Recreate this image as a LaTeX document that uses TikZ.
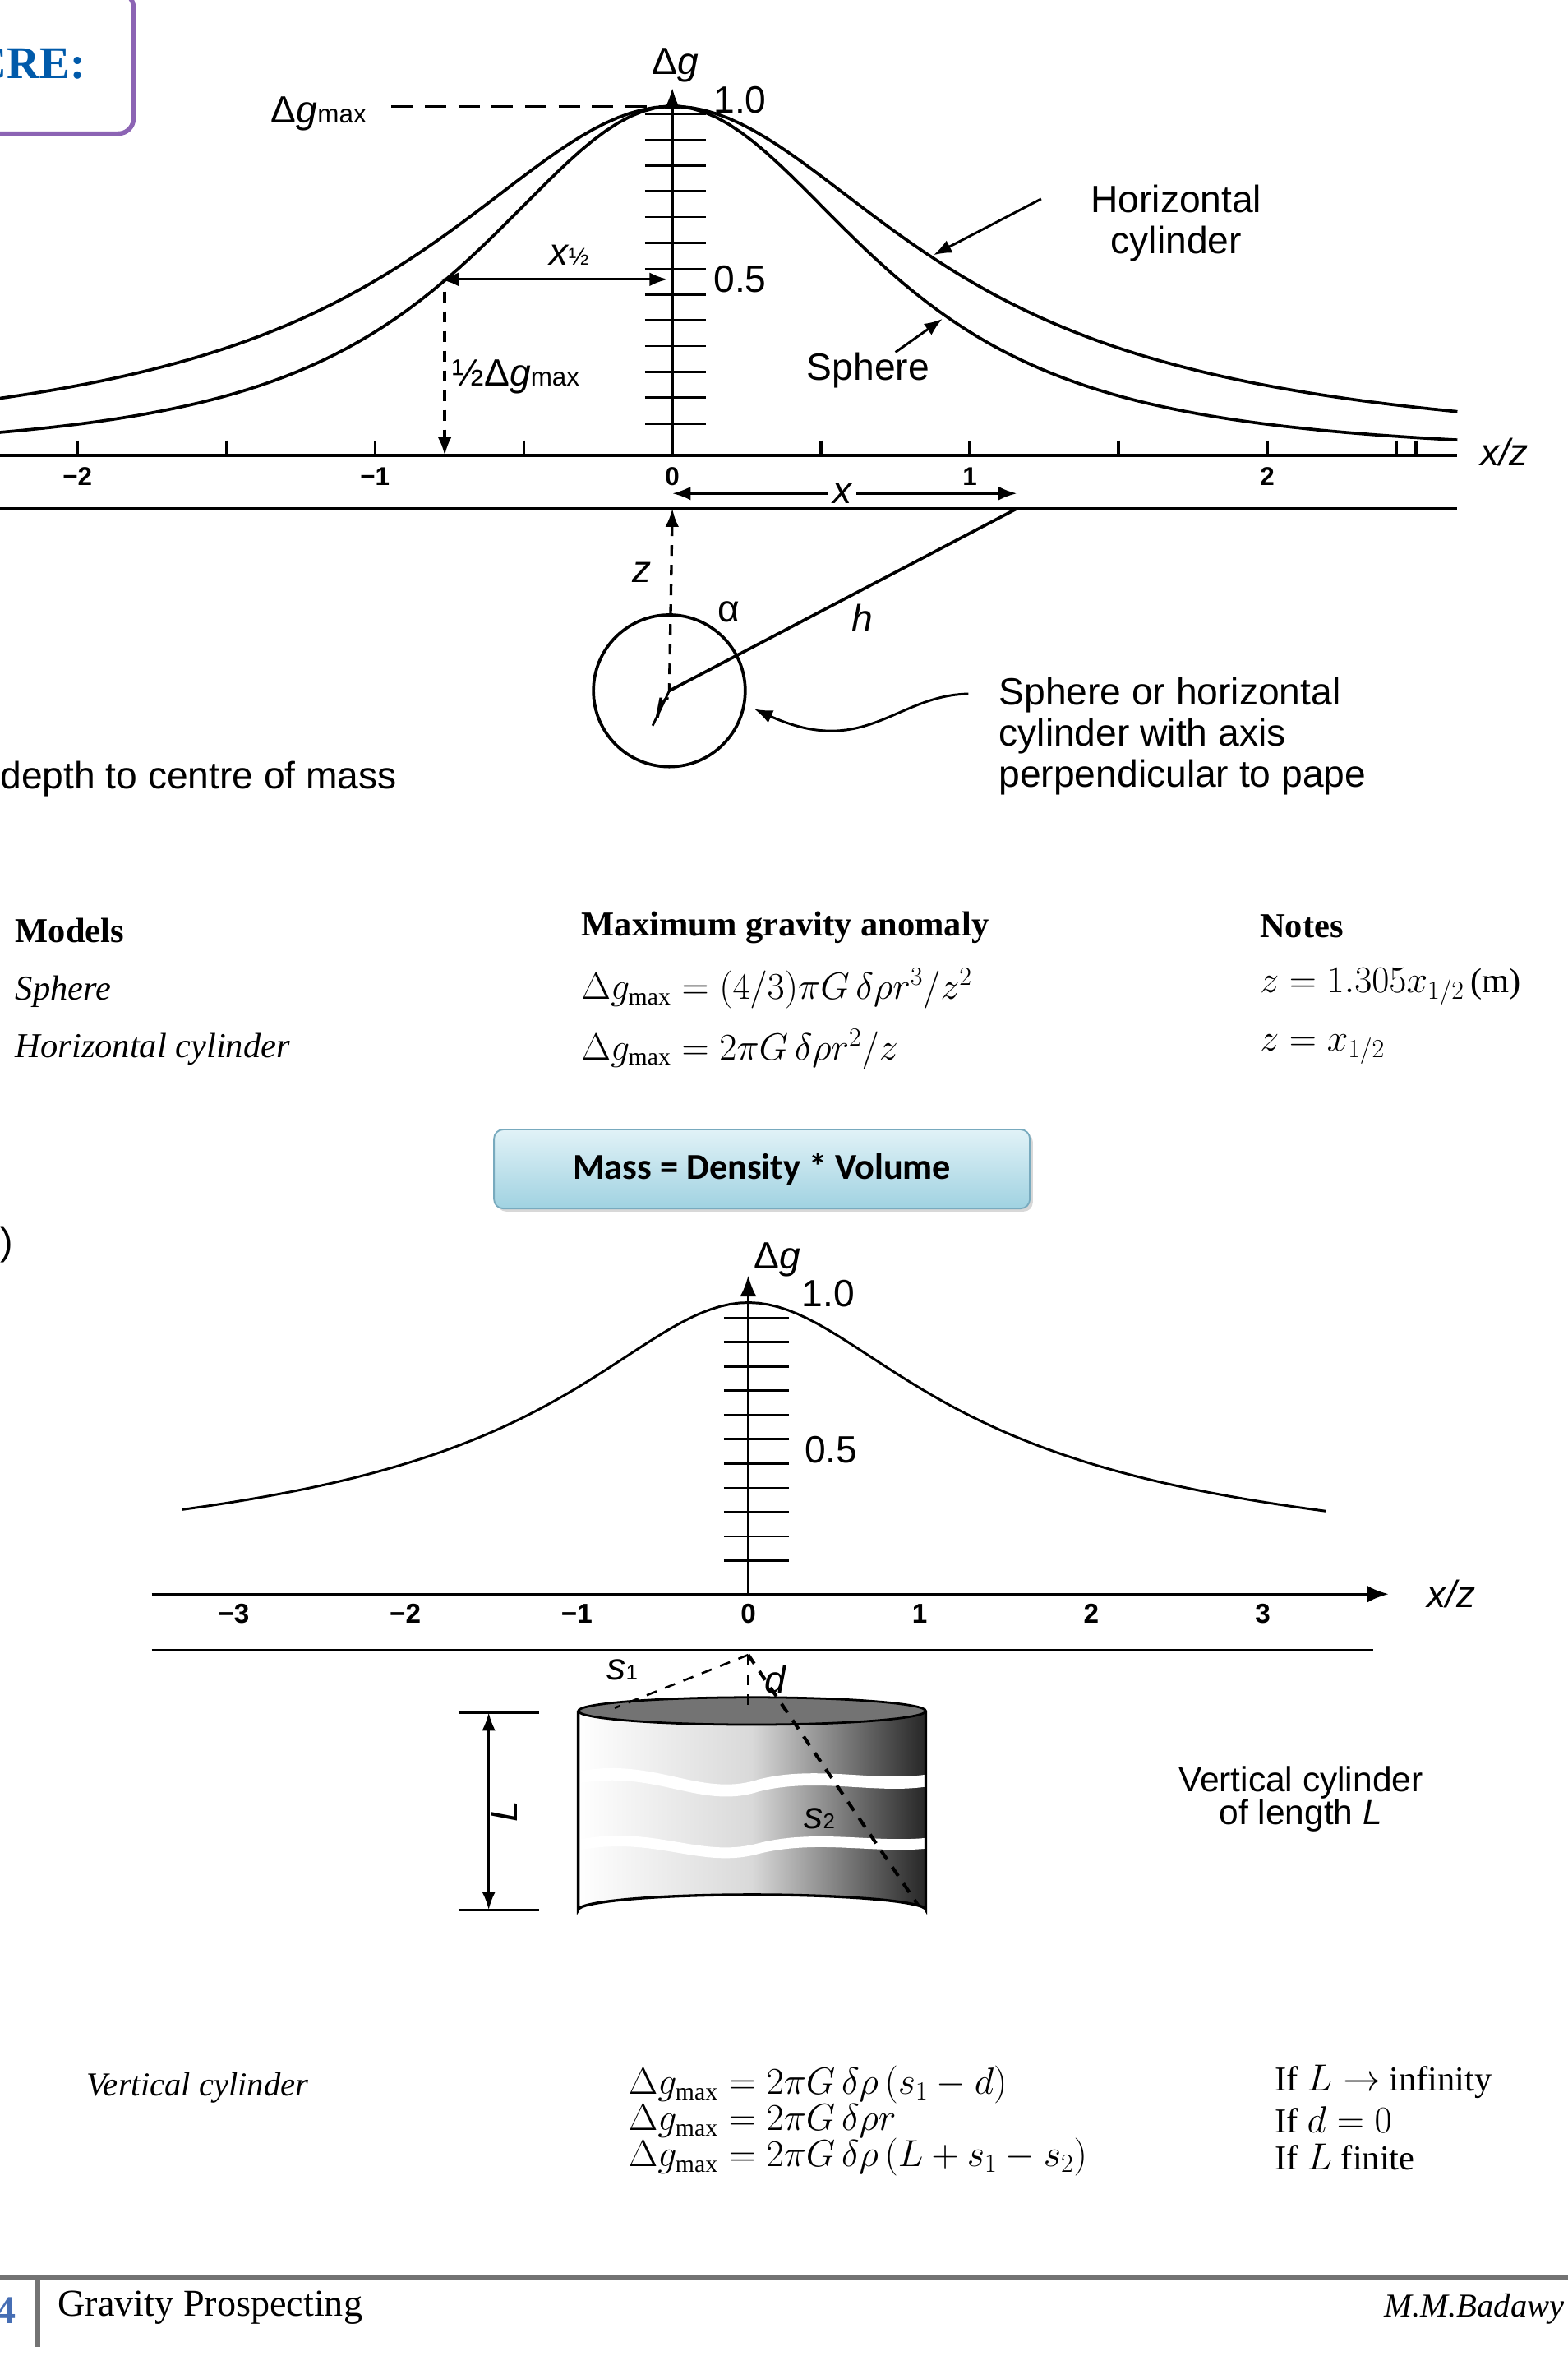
\documentclass[tikz,border=0pt]{standalone}
\usepackage{fontspec}
\setmainfont{Liberation Serif}
\newfontfamily\lsans{Liberation Sans}
\newfontfamily\carl{Carlito}
\usetikzlibrary{arrows.meta,decorations.pathmorphing,shadows}
\newcommand{\ig}[1]{{\itshape #1}}
\begin{document}
\begin{tikzpicture}[x=1pt,y=-1pt,
 lab/.style={font=\lsans\fontsize{25}{27}\selectfont,inner sep=0pt},
 tab/.style={font=\fontsize{23}{25}\selectfont,inner sep=0pt,anchor=west},
 ax/.style={line width=1.8pt},
 arr/.style={-{Latex[length=12pt,width=9pt]},line width=1.6pt},
 dsh/.style={line width=1.8pt,dash pattern=on 7pt off 6pt}]
\useasboundingbox[fill=white] (0,0) rectangle (1033,1567);
% title box
\draw[line width=3pt,draw={rgb,255:red,140;green,100;blue,180},rounded corners=10pt,fill=white] (-30,-5) rectangle (88,88);
\node[font=\bfseries\fontsize{30}{32}\selectfont,text={rgb,255:red,0;green,90;blue,170},anchor=east] (cre) at (60,42) {CRE:};
% top graph
\draw[ax] (0,300) -- (960,300);
\draw[ax] (0,335) -- (960,335);
\draw[ax,-{Latex[length=14pt,width=11pt]}] (443,300) -- (443,58);
\foreach \t in {75,92,...,290} \draw[line width=1.5pt] (425,\t) -- (465,\t);
\foreach \u in {-2,-1.5,...,2.5} \draw[line width=1.8pt] ({443+196*\u},290) -- ({443+196*\u},300);
\draw[line width=1.8pt] (920,290)--(920,300);
\foreach \u/\l in {-2/−2,-1/−1,0/0,1/1,2/2} \node[lab,font=\lsans\bfseries\fontsize{17}{20}\selectfont] (xl\u) at ({443+196*\u},314) {\l};
\node[lab] (dg) at (445,43) {Δ\ig{g}};
\node[lab,anchor=west] (one) at (470,66) {1.0};
\node[lab,anchor=west] (half) at (470,184) {0.5};
\node[lab,anchor=west] (xz) at (975,298) {\ig{x/z}};
\draw[line width=2pt] plot[domain=-2.3:2.64,samples=120] ({443+196*\x},{300-230/(1+\x*\x)});
\draw[line width=2pt] plot[domain=-2.3:2.64,samples=120] ({443+196*\x},{300-230*pow(1+\x*\x,-1.5)});
\draw[dsh,dash pattern=on 14pt off 8pt] (258,70) -- (440,70);
\node[lab] (dgm) at (210,75) {Δ\ig{g}{\fontsize{17}{18}\selectfont max}};
\coordinate (hl) at (290,184); \coordinate (hr) at (440,184);
\draw[arr,{Latex[length=12pt,width=9pt]}-{Latex[length=12pt,width=9pt]}] (hl) -- (hr);
\node[lab] (xh) at (375,168) {\ig{x}{\fontsize{16}{17}\selectfont ½}};
\coordinate (dt) at (293,192); \coordinate (db) at (293,300);
\draw[dsh,-{Latex[length=12pt,width=9pt]}] (dt) -- (db);
\node[lab] (hdg) at (340,248) {½Δ\ig{g}{\fontsize{17}{18}\selectfont max}};
\node[lab,align=center] (hc) at (775,147) {Horizontal\\cylinder};
\coordinate (hca) at (615,168);
\draw[arr] (686,131) -- (hca);
\node[lab] (sph) at (572,244) {Sphere};
\coordinate (spa) at (621,210);
\draw[arr] (590,232) -- (spa);
% geometry
\coordinate (o) at (443,335); \coordinate (xp) at (670,335);
\draw[{Latex[length=12pt,width=9pt]}-{Latex[length=12pt,width=9pt]},line width=1.6pt] (443,325) -- (670,325);
\node[lab,fill=white,inner xsep=3pt] (xlab) at (555,325) {\ig{x}};
\node[circle,draw,line width=2pt,minimum size=100pt,inner sep=0pt] (c) at (441,455) {};
\draw[dsh,{Latex[length=12pt,width=9pt]}-] (o) -- (c.center);
\draw[line width=2pt] (xp) -- (c.center);
\draw[line width=1.5pt] (c.center) -- (430,478);
\node[lab] (rr) at (436,466) {\ig{r}};
\node[lab] (zz) at (423,377) {\ig{z}};
\node[lab] (hh) at (568,407) {\ig{h}};
\node[lab] (al) at (480,403) {α};
\node[lab,anchor=west,align=left] (txt1) at (658,485) {Sphere or horizontal\\cylinder with axis\\perpendicular to pape};
\coordinate (ca) at (497,467);
\draw[arr] (638,457) .. controls (590,458) and (570,500) .. (ca);
\node[lab,anchor=west] (dep) at (0,513) {depth to centre of mass};
% table 1
\node[tab,font=\bfseries\fontsize{23}{25}\selectfont] (m1) at (10,613) {Models};
\node[tab,font=\bfseries\fontsize{23}{25}\selectfont] (m2) at (383,611) {Maximum gravity anomaly};
\node[tab,font=\bfseries\fontsize{23}{25}\selectfont] (m3) at (830,610) {Notes};
\node[tab,font=\itshape\fontsize{23}{25}\selectfont] (s1) at (10,653) {Sphere};
\node[tab] (s2) at (383,651) {$\Delta g_{\mathrm{max}}=(4/3)\pi G\,\delta\rho r^3/z^2$};
\node[tab] (s3) at (830,650) {$z=1.305x_{1/2}\,$(m)};
\node[tab,font=\itshape\fontsize{23}{25}\selectfont] (h1) at (10,691) {Horizontal cylinder};
\node[tab] (h2) at (383,691) {$\Delta g_{\mathrm{max}}=2\pi G\,\delta\rho r^2/z$};
\node[tab] (h3) at (830,691) {$z=x_{1/2}$};
% button
\node[draw={rgb,255:red,120;green,170;blue,190},line width=1pt,rounded corners=6pt,minimum width=353pt,minimum height=52pt,top color={rgb,255:red,225;green,242;blue,247},bottom color={rgb,255:red,160;green,210;blue,225},drop shadow={opacity=0.3,shadow xshift=2pt,shadow yshift=-2pt},font=\carl\bfseries\fontsize{24}{26}\selectfont] (btn) at (502,770) {Mass = Density * Volume};
\node[lab,anchor=west] (bp) at (0,820) {)};
% second graph
\draw[ax,-{Latex[length=14pt,width=11pt]}] (100,1050) -- (915,1050);
\draw[ax] (100,1087) -- (905,1087);
\draw[ax,-{Latex[length=14pt,width=11pt]}] (493,1050) -- (493,840);
\foreach \t in {868,884,...,1035} \draw[line width=1.5pt] (477,\t) -- (520,\t);
\foreach \u/\l in {-3/−3,-2/−2,-1/−1,0/0,1/1,2/2,3/3} \node[lab,font=\lsans\bfseries\fontsize{18}{20}\selectfont] (yl\u) at ({493+113*\u},1063) {\l};
\node[lab] (dg2) at (512,830) {Δ\ig{g}};
\node[lab,anchor=west] (one2) at (528,852) {1.0};
\node[lab,anchor=west] (half2) at (530,955) {0.5};
\node[lab,anchor=west] (xz2) at (940,1050) {\ig{x/z}};
\draw[line width=1.6pt] plot[domain=-3.30:3.37,samples=120] ({493+113*\x},{1050-192*pow(1+\x*\x,-0.5)});
% cylinder
\fill[left color=white,right color=black!85,middle color=black!15] (381,1127) -- (381,1258) arc[start angle=180,end angle=360,x radius=114.5,y radius=10] -- (610,1127) -- cycle;
\draw[line width=1.5pt,fill=black!55] (495.5,1127) ellipse[x radius=114.5,y radius=9];
\fill[white] (375,1168) .. controls (430,1155) and (460,1185) .. (500,1172) .. controls (540,1162) and (580,1175) .. (615,1168) -- (615,1176) .. controls (580,1183) and (540,1170) .. (500,1180) .. controls (460,1193) and (430,1163) .. (375,1176) -- cycle;
\fill[white] (375,1213) .. controls (430,1200) and (460,1225) .. (500,1214) .. controls (540,1204) and (580,1215) .. (615,1210) -- (615,1217) .. controls (580,1222) and (540,1211) .. (500,1221) .. controls (460,1232) and (430,1207) .. (375,1220) -- cycle;
\draw[line width=1.8pt] (381,1127) -- (381,1258) arc[start angle=180,end angle=360,x radius=114.5,y radius=10] -- (610,1127);
\coordinate (top0) at (493,1090);
\draw[dsh,line width=1.4pt] (top0) -- (405,1125);
\draw[dsh,line width=1.4pt] (top0) -- (493,1125);
\draw[dsh,line width=2.2pt] (top0) -- (605,1255);
\node[lab] (s1l) at (410,1100) {\ig{s}{\fontsize{14}{15}\selectfont 1}};
\node[lab] (dl) at (511,1106) {\ig{d}};
\node[lab] (s2l) at (540,1198) {\ig{s}{\fontsize{14}{15}\selectfont 2}};
\coordinate (lt) at (322,1128); \coordinate (lb) at (322,1258);
\draw[arr,{Latex[length=12pt,width=9pt]}-{Latex[length=12pt,width=9pt]}] (lt) -- (lb);
\draw[line width=1.8pt] (302,1128) -- (355,1128) (302,1258) -- (355,1258);
\node[lab,rotate=90] (ll) at (332,1193) {\ig{L}};
\node[lab,align=center,font=\lsans\fontsize{23}{22}\selectfont] (vc) at (857,1185) {Vertical cylinder\\of length \ig{L}};
% table 2
\node[tab,font=\itshape\fontsize{22}{24}\selectfont] (v1) at (57,1375) {Vertical cylinder};
\node[tab] (v2) at (414,1373) {$\Delta g_{\mathrm{max}}=2\pi G\,\delta\rho\,(s_1-d)$};
\node[tab] (v3) at (414,1397) {$\Delta g_{\mathrm{max}}=2\pi G\,\delta\rho r$};
\node[tab] (v4) at (414,1421) {$\Delta g_{\mathrm{max}}=2\pi G\,\delta\rho\,(L+s_1-s_2)$};
\node[tab] (n1) at (840,1371) {If $L\to$ infinity};
\node[tab] (n2) at (840,1396) {If $d=0$};
\node[tab] (n3) at (840,1421) {If $L$ finite};
% footer
\draw[line width=3pt,black!55] (0,1500) -- (1033,1500);
\draw[line width=3pt,black!55] (25,1500) -- (25,1546);
\node[font=\bfseries\fontsize{26}{28}\selectfont,text={rgb,255:red,70;green,110;blue,180},anchor=east] (pg) at (14,1522) {4};
\node[tab,font=\fontsize{25}{27}\selectfont] (gp) at (38,1520) {Gravity Prospecting};
\node[font=\itshape\fontsize{22}{24}\selectfont,anchor=east,inner sep=0pt] (au) at (1031,1521) {M.M.Badawy};
\end{tikzpicture}
\end{document}
